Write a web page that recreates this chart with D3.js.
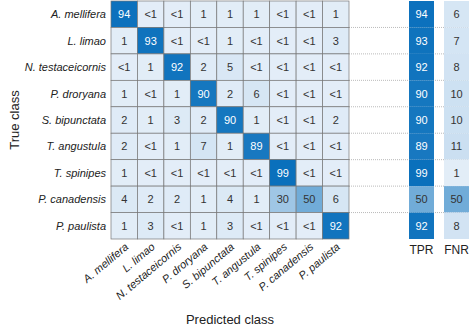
<!DOCTYPE html>
<html>
<head>
<meta charset="utf-8">
<script src="https://cdn.jsdelivr.net/npm/d3@7/dist/d3.min.js"></script>
<style>
  html, body { margin: 0; padding: 0; background: #fff; }
  svg { display: block; font-family: "Liberation Sans", Arial, sans-serif; }
</style>
</head>
<body>
<svg id="chart" width="474" height="336"></svg>
<script>
// Species classes (rows = true class, columns = predicted class)
const classes = ["A. mellifera", "L. limao", "N. testaceicornis", "P. droryana",
  "S. bipunctata", "T. angustula", "T. spinipes", "P. canadensis", "P. paulista"];

// Percentages per true-class row; 0.5 stands for entries below 1 %
const rowAMellifera   = [94, 0.5, 0.5, 1, 1, 1, 0.5, 0.5, 1];
const rowLLimao       = [1, 93, 0.5, 0.5, 1, 0.5, 0.5, 0.5, 3];
const rowNTestaceic   = [0.5, 1, 92, 2, 5, 0.5, 0.5, 0.5, 0.5];
const rowPDroryana    = [1, 0.5, 1, 90, 2, 6, 0.5, 0.5, 0.5];
const rowSBipunctata  = [2, 1, 3, 2, 90, 1, 0.5, 0.5, 2];
const rowTAngustula   = [2, 0.5, 1, 7, 1, 89, 0.5, 0.5, 0.5];
const rowTSpinipes    = [1, 0.5, 0.5, 0.5, 0.5, 0.5, 99, 0.5, 0.5];
const rowPCanadensis  = [4, 2, 2, 1, 4, 1, 30, 50, 6];
const rowPPaulista    = [1, 3, 0.5, 1, 3, 0.5, 0.5, 0.5, 92];
const matrix = [rowAMellifera, rowLLimao, rowNTestaceic, rowPDroryana, rowSBipunctata,
  rowTAngustula, rowTSpinipes, rowPCanadensis, rowPPaulista];

// Row summaries: true positive rate and false negative rate (%)
const tpr = [94, 93, 92, 90, 90, 89, 99, 50, 92];
const fnr = [6, 7, 8, 10, 10, 11, 1, 50, 8];

const summaryLabels = ["TPR", "FNR"];
const xTitle = "Predicted class";
const yTitle = "True class";

const svg = d3.select("#chart");

const gridLeft = 111, gridTop = 1, gridSize = 238;
const x = d3.scaleBand().domain(classes).range([gridLeft, gridLeft + gridSize]);
const y = d3.scaleBand().domain(classes).range([gridTop, gridTop + gridSize]);

const color = d3.scaleLinear().domain([0, 95]).range(["#e4eef8", "#0a70bc"]).clamp(true);
const label = v => v < 1 ? "<1" : String(v);
const textColor = v => v >= 80 ? "#ffffff" : "#333333";

// Dotted row separators running past the grid to the summary columns
const sepX0 = gridLeft + gridSize, sepX1 = 469;
svg.append("g").selectAll("line")
  .data(d3.range(1, classes.length))
  .join("line")
  .attr("x1", sepX0).attr("x2", sepX1)
  .attr("y1", i => gridTop + i * y.step())
  .attr("y2", i => gridTop + i * y.step())
  .attr("stroke", "#a8a8a8")
  .attr("stroke-width", 0.8)
  .attr("stroke-dasharray", "1,1");

// Confusion cells
const cells = [];
matrix.forEach((row, r) => row.forEach((v, c) => cells.push({ r, c, v })));

const gCells = svg.append("g");
gCells.selectAll("rect")
  .data(cells)
  .join("rect")
  .attr("x", d => x(classes[d.c]))
  .attr("y", d => y(classes[d.r]))
  .attr("width", x.bandwidth())
  .attr("height", y.bandwidth())
  .attr("fill", d => color(d.v))
  .attr("stroke", "#777777")
  .attr("stroke-width", 0.7);

gCells.selectAll("text")
  .data(cells)
  .join("text")
  .attr("x", d => x(classes[d.c]) + x.bandwidth() / 2)
  .attr("y", d => y(classes[d.r]) + y.bandwidth() / 2)
  .attr("dy", "0.36em")
  .attr("text-anchor", "middle")
  .attr("font-size", 11)
  .attr("fill", d => textColor(d.v))
  .text(d => label(d.v));

// Summary columns (TPR, FNR)
const sx = d3.scaleOrdinal().domain(summaryLabels).range([409, 444]);
const sw = 25;
[tpr, fnr].forEach((vals, k) => {
  const key = summaryLabels[k];
  const g = svg.append("g");
  g.selectAll("rect")
    .data(vals)
    .join("rect")
    .attr("x", sx(key))
    .attr("y", (v, i) => y(classes[i]))
    .attr("width", sw)
    .attr("height", y.bandwidth())
    .attr("fill", v => color(v));
  g.selectAll("text")
    .data(vals)
    .join("text")
    .attr("x", sx(key) + sw / 2)
    .attr("y", (v, i) => y(classes[i]) + y.bandwidth() / 2)
    .attr("dy", "0.36em")
    .attr("text-anchor", "middle")
    .attr("font-size", 11)
    .attr("fill", v => textColor(v))
    .text(v => label(v));
  svg.append("text")
    .attr("x", sx(key) + sw / 2)
    .attr("y", gridTop + gridSize + 15)
    .attr("text-anchor", "middle")
    .attr("font-size", 12)
    .attr("fill", "#222")
    .text(key);
});

// Row labels
svg.append("g").selectAll("text")
  .data(classes)
  .join("text")
  .attr("x", gridLeft - 5)
  .attr("y", d => y(d) + y.bandwidth() / 2)
  .attr("dy", "0.36em")
  .attr("text-anchor", "end")
  .attr("font-size", 11)
  .attr("font-style", "italic")
  .attr("fill", "#222")
  .text(d => d);

// Column labels, rotated
svg.append("g").selectAll("text")
  .data(classes)
  .join("text")
  .attr("transform", d => `translate(${x(d) + x.bandwidth() / 2 + 5},${gridTop + gridSize + 9}) rotate(-40)`)
  .attr("text-anchor", "end")
  .attr("font-size", 11)
  .attr("font-style", "italic")
  .attr("fill", "#222")
  .text(d => d);

// Axis titles
svg.append("text")
  .attr("x", 230)
  .attr("y", 324)
  .attr("text-anchor", "middle")
  .attr("font-size", 13)
  .attr("fill", "#222")
  .text(xTitle);

svg.append("text")
  .attr("transform", `translate(19,${gridTop + gridSize / 2}) rotate(-90)`)
  .attr("text-anchor", "middle")
  .attr("font-size", 13)
  .attr("fill", "#222")
  .text(yTitle);
</script>
</body>
</html>
